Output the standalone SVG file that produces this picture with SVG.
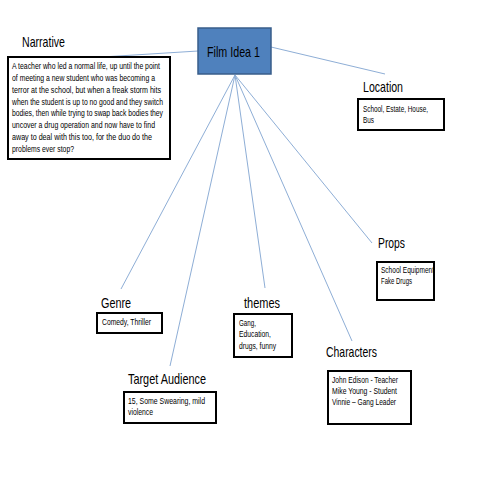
<svg xmlns="http://www.w3.org/2000/svg" width="480" height="480" viewBox="0 0 480 480">
<style>
.lbl{font-family:"Liberation Sans",Arial,sans-serif;font-size:15px;fill:#000}
.txt{font-family:"Liberation Sans",Arial,sans-serif;font-size:9px;fill:#000}
.box{fill:#fff;stroke:#000;stroke-width:2}
.con{stroke:#8eaed6;stroke-width:1;fill:none}
</style>
<rect width="480" height="480" fill="#fff"/>
<g id="connectors">
<line class="con" x1="198" y1="51" x2="102" y2="57"/>
<line class="con" x1="271" y1="47" x2="385" y2="74"/>
<line class="con" x1="235" y1="75" x2="121" y2="289"/>
<line class="con" x1="235" y1="75" x2="170" y2="366"/>
<line class="con" x1="235" y1="75" x2="265" y2="288"/>
<line class="con" x1="235" y1="75" x2="352" y2="341"/>
<line class="con" x1="235" y1="75" x2="372" y2="243"/>
</g>
<g id="film-idea">
<rect x="198" y="28" width="73" height="46" fill="#4f81bd" stroke="#385d8a" stroke-width="1.5"/>
<text class="lbl" x="207" y="57" font-size="16" textLength="53" lengthAdjust="spacingAndGlyphs">Film Idea 1</text>
</g>
<g id="narrative">
<text class="lbl" x="22" y="47" textLength="43" lengthAdjust="spacingAndGlyphs">Narrative</text>
<rect class="box" x="8" y="57" width="162" height="102"/>
<text class="txt" x="12" y="69" textLength="148" lengthAdjust="spacingAndGlyphs">A teacher who led a normal life, up until the point</text>
<text class="txt" x="12" y="81" textLength="143" lengthAdjust="spacingAndGlyphs">of meeting a new student who was becoming a</text>
<text class="txt" x="12" y="93" textLength="149" lengthAdjust="spacingAndGlyphs">terror at the school, but when a freak storm hits</text>
<text class="txt" x="12" y="105" textLength="151" lengthAdjust="spacingAndGlyphs">when the student is up to no good and they switch</text>
<text class="txt" x="12" y="116" textLength="151" lengthAdjust="spacingAndGlyphs">bodies, then while trying to swap back bodies they</text>
<text class="txt" x="12" y="128" textLength="143" lengthAdjust="spacingAndGlyphs">uncover a drug operation and now have to find</text>
<text class="txt" x="12" y="140" textLength="140" lengthAdjust="spacingAndGlyphs">away to deal with this too, for the duo do the</text>
<text class="txt" x="12" y="152" textLength="62" lengthAdjust="spacingAndGlyphs">problems ever stop?</text>
</g>
<g id="location">
<text class="lbl" x="363" y="92" textLength="40" lengthAdjust="spacingAndGlyphs">Location</text>
<rect class="box" x="358" y="99" width="86" height="31"/>
<text class="txt" x="363" y="112" textLength="65" lengthAdjust="spacingAndGlyphs">School, Estate, House,</text>
<text class="txt" x="363" y="123" textLength="11" lengthAdjust="spacingAndGlyphs">Bus</text>
</g>
<g id="props">
<text class="lbl" x="378" y="248" textLength="27" lengthAdjust="spacingAndGlyphs">Props</text>
<rect class="box" x="377" y="262" width="57" height="38"/>
<text class="txt" x="381" y="273" textLength="53" lengthAdjust="spacingAndGlyphs">School Equipment</text>
<text class="txt" x="381" y="284" textLength="31" lengthAdjust="spacingAndGlyphs">Fake Drugs</text>
</g>
<g id="genre">
<text class="lbl" x="101" y="308" textLength="30" lengthAdjust="spacingAndGlyphs">Genre</text>
<rect class="box" x="97" y="313" width="65" height="20"/>
<text class="txt" x="102" y="325" textLength="49" lengthAdjust="spacingAndGlyphs">Comedy, Thriller</text>
</g>
<g id="themes">
<text class="lbl" x="244" y="308" textLength="36" lengthAdjust="spacingAndGlyphs">themes</text>
<rect class="box" x="234" y="314" width="58" height="43"/>
<text class="txt" x="239" y="326" textLength="17" lengthAdjust="spacingAndGlyphs">Gang,</text>
<text class="txt" x="239" y="337" textLength="32" lengthAdjust="spacingAndGlyphs">Education,</text>
<text class="txt" x="239" y="349" textLength="37" lengthAdjust="spacingAndGlyphs">drugs, funny</text>
</g>
<g id="target-audience">
<text class="lbl" x="128" y="384" textLength="78" lengthAdjust="spacingAndGlyphs">Target Audience</text>
<rect class="box" x="124" y="392" width="92" height="31"/>
<text class="txt" x="128" y="404" textLength="77" lengthAdjust="spacingAndGlyphs">15, Some Swearing, mild</text>
<text class="txt" x="128" y="415" textLength="25" lengthAdjust="spacingAndGlyphs">violence</text>
</g>
<g id="characters">
<text class="lbl" x="326" y="357" textLength="51" lengthAdjust="spacingAndGlyphs">Characters</text>
<rect class="box" x="328" y="371" width="83" height="53"/>
<text class="txt" x="332" y="383" textLength="66" lengthAdjust="spacingAndGlyphs">John Edison - Teacher</text>
<text class="txt" x="332" y="394" textLength="65" lengthAdjust="spacingAndGlyphs">Mike Young - Student</text>
<text class="txt" x="332" y="405" textLength="64" lengthAdjust="spacingAndGlyphs">Vinnie – Gang Leader</text>
</g>
</svg>
